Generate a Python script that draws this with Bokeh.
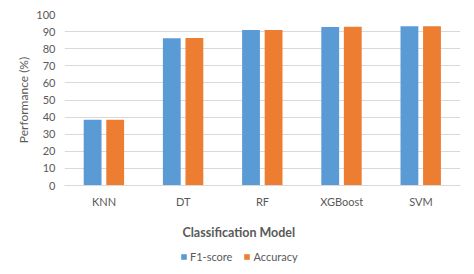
from bokeh.plotting import figure
from bokeh.layouts import column
from bokeh.models import ColumnDataSource, Legend, LegendItem, Title
from bokeh.transform import dodge
from bokeh.embed import file_html
from bokeh.resources import INLINE

models = ["KNN", "DT", "RF", "XGBoost", "SVM"]
f1_score = [38.5, 86.1, 91.0, 92.7, 93.1]
accuracy = [38.5, 86.2, 90.9, 92.8, 93.1]
y_ticks = [0, 10, 20, 30, 40, 50, 60, 70, 80, 90, 100]
series_names = ["F1-score", "Accuracy"]
series_colors = ["#5B9BD5", "#ED7D31"]

FONT = "Lato"
TXT = "#595959"

source = ColumnDataSource(dict(model=models, f1=f1_score, acc=accuracy))

p = figure(width=474, height=251, x_range=models, y_range=(0, 100),
           output_backend="svg", toolbar_location=None,
           min_border_left=64, min_border_right=14, min_border_top=14, min_border_bottom=66)
p.outline_line_color = None

p.vbar(x=dodge("model", -0.145, range=p.x_range), top="f1", width=0.225,
       source=source, fill_color=series_colors[0], line_color=None)
p.vbar(x=dodge("model", 0.14, range=p.x_range), top="acc", width=0.225,
       source=source, fill_color=series_colors[1], line_color=None)

p.yaxis.ticker = y_ticks
p.ygrid.grid_line_color = "#D9D9D9"
p.xgrid.grid_line_color = None
p.ygrid.level = "underlay"

for ax in (p.xaxis[0], p.yaxis[0]):
    ax.axis_line_color = None
    ax.major_tick_line_color = None
    ax.minor_tick_line_color = None
    ax.major_tick_out = 0
    ax.major_tick_in = 0
    ax.minor_tick_out = 0
    ax.major_label_text_font = FONT
    ax.major_label_text_font_size = "11px"
    ax.major_label_text_color = TXT
p.xaxis.axis_line_color = "#D9D9D9"
p.yaxis.major_label_standoff = 9
p.xaxis.major_label_standoff = 9

p.yaxis.axis_label = "Performance (%)"
p.yaxis.axis_label_text_font = FONT
p.yaxis.axis_label_text_font_size = "12px"
p.yaxis.axis_label_text_font_style = "normal"
p.yaxis.axis_label_text_color = TXT
p.yaxis.axis_label_standoff = 2

p.add_layout(Title(text="Classification Model", align="left", offset=118,
                   text_font=FONT, text_font_size="12.5px", text_font_style="bold",
                   text_color=TXT, standoff=24), "below")

# legend strip: zero-width bars from the same data, so only the legend shows
pl = figure(width=474, height=23, x_range=models, y_range=(-300, -200),
            output_backend="svg", toolbar_location=None,
            x_axis_location=None, y_axis_location=None,
            min_border_left=0, min_border_right=0, min_border_top=0, min_border_bottom=0)
pl.outline_line_color = None
pl.xgrid.grid_line_color = None
pl.ygrid.grid_line_color = None
items = []
for name, col, key in zip(series_names, series_colors, ["f1", "acc"]):
    r = pl.vbar(x="model", top=key, width=0, source=source, fill_color=col, line_color=None)
    items.append(LegendItem(label=name, renderers=[r]))

legend = Legend(items=items, location=(116, 11), orientation="horizontal",
                padding=0, margin=0, spacing=11, label_standoff=3,
                glyph_width=7, glyph_height=7, label_height=12,
                label_text_font=FONT, label_text_font_size="11px", label_text_color=TXT,
                border_line_color=None, background_fill_alpha=0)
pl.add_layout(legend, "center")

layout = column(p, pl, spacing=0)
open("out.html", "w").write(file_html(layout, INLINE))
